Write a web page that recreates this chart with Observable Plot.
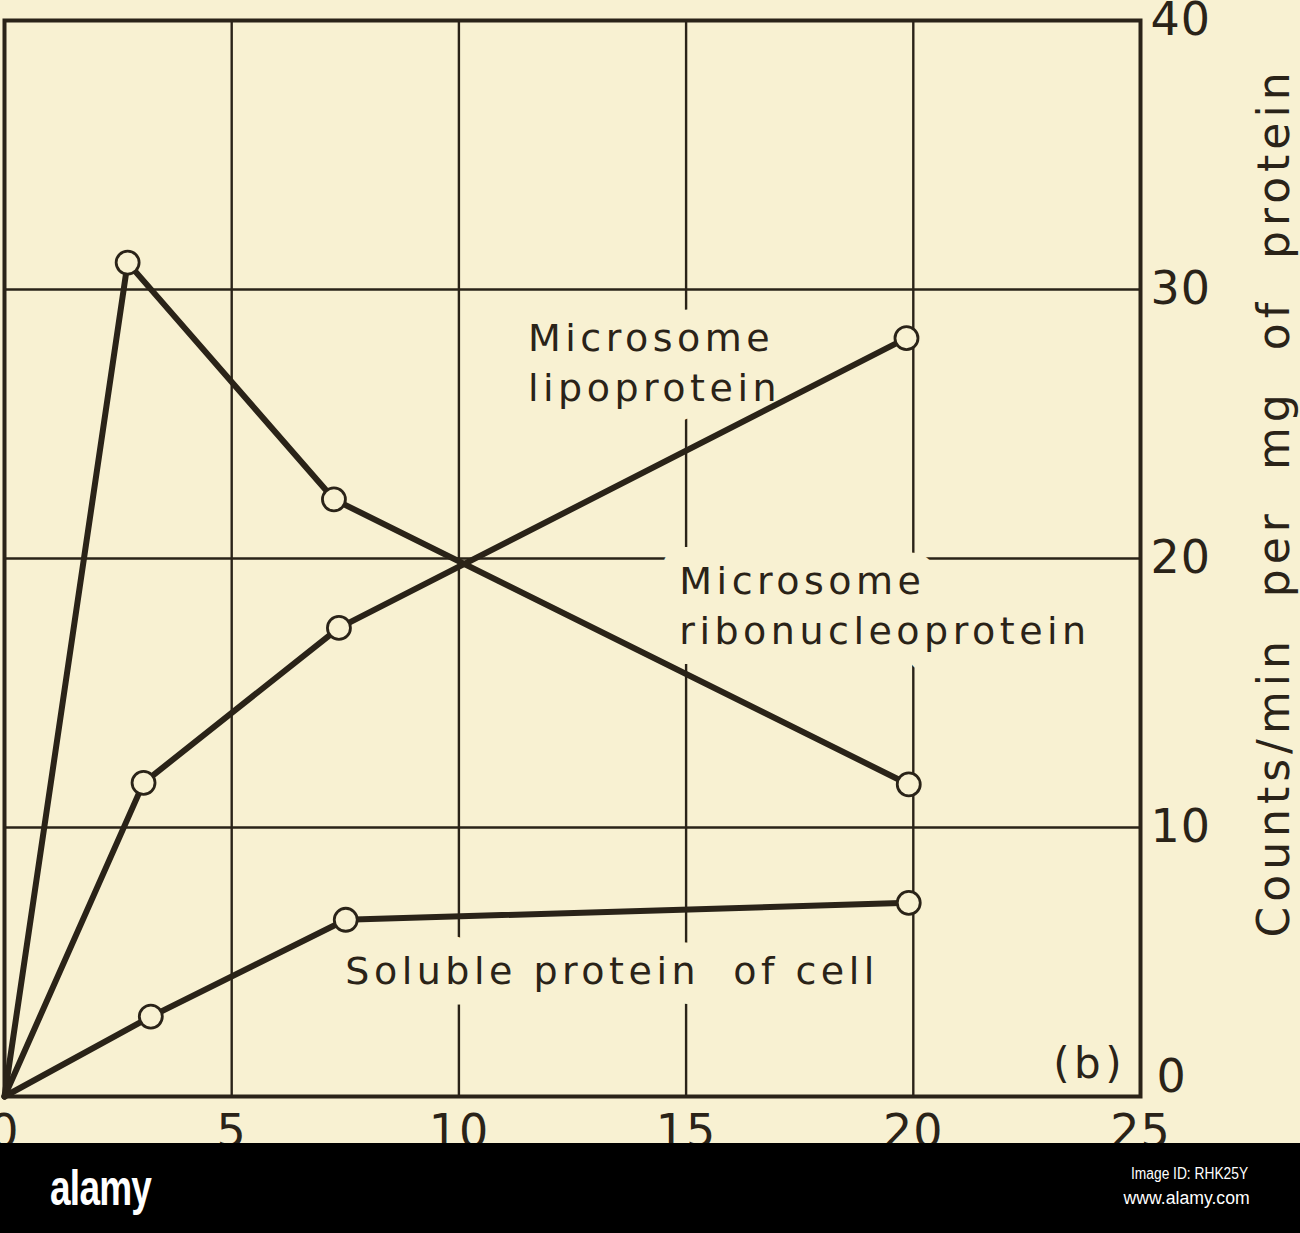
<!DOCTYPE html>
<html>
<head>
<meta charset="utf-8">
<script src="https://cdn.jsdelivr.net/npm/d3@7"></script>
<script src="https://cdn.jsdelivr.net/npm/@observablehq/plot@0.6"></script>
<style>
  html, body { margin: 0; padding: 0; background: #f8f1d2; }
  #wrap { position: relative; width: 1300px; height: 1233px; overflow: hidden; background: #f8f1d2; }
  #chart svg { display: block; background: #f8f1d2 !important; }
  #footer { position: absolute; left: 0; top: 1143px; width: 1300px; height: 90px; background: #000; z-index: 5; }
  #footer .logo { position: absolute; left: 50px; top: 16px; color: #fff; font: bold 50px "Liberation Sans", Arial, sans-serif;
    transform: scaleX(0.74); transform-origin: left top; letter-spacing: -1px; }
  #footer .id { position: absolute; right: 52px; top: 22px; color: #fff; font: 16px "Liberation Sans", Arial, sans-serif;
    transform: scaleX(0.86); transform-origin: right top; }
  #footer .url { position: absolute; right: 50px; top: 45px; color: #fff; font: 18px "Liberation Sans", Arial, sans-serif;
    transform: scaleX(0.98); transform-origin: right top; }
  g[aria-label="x-axis tick label"] text, g[aria-label="y-axis tick label"] text { letter-spacing: 1px; }
</style>
</head>
<body>
<div id="wrap">
  <div id="chart"></div>
  <div id="footer">
    <div class="logo">alamy</div>
    <div class="id">Image ID: RHK25Y</div>
    <div class="url">www.alamy.com</div>
  </div>
</div>
<script>
// ---- data ----
const xTicks = [0, 5, 10, 15, 20, 25];
const yTicks = [10, 20, 30, 40];
const yZeroTick = [0];
const gridX = [5, 10, 15, 20];
const gridY = [10, 20, 30];

const seriesNames = ["Microsome ribonucleoprotein", "Microsome lipoprotein", "Soluble protein of cell"];
const ribonucleoX = [0, 2.71, 7.25, 19.9];
const ribonucleoY = [0, 31.0, 22.2, 11.6];
const lipoX = [0, 3.06, 7.36, 19.85];
const lipoY = [0, 11.66, 17.42, 28.19];
const solubleX = [0, 3.22, 7.51, 19.9];
const solubleY = [0, 2.97, 6.57, 7.2];

const labelText = ["Microsome\nlipoprotein", "Microsome\nribonucleoprotein", "Soluble protein  of cell", "(b)"];
const labelX = [11.52, 14.85, 13.37, 23.88];
const labelY = [27.37, 18.35, 4.79, 1.30];

const yTitle = "Counts/min per mg of protein";

// ---- build tables ----
const xs = [ribonucleoX, lipoX, solubleX];
const ys = [ribonucleoY, lipoY, solubleY];
const rows = [];
seriesNames.forEach((name, i) => {
  xs[i].forEach((x, j) => rows.push({series: name, x, y: ys[i][j], idx: j}));
});
const pts = rows.filter(d => d.idx > 0);
const labels = labelText.map((t, i) => ({t, x: labelX[i], y: labelY[i]}));
const leftLabels = labels.slice(0, 2);
const midLabels = labels.slice(2, 3);
const bLabel = labels.slice(3, 4);

const ink = "#2a2318";
const bg = "#f8f1d2";
const font = "DejaVu Sans, Liberation Sans, sans-serif";

function labelHalo(data, anchor, size, lh) {
  return Plot.text(data, {x: "x", y: "y", text: "t", textAnchor: anchor, fontSize: size, lineHeight: lh,
    fill: bg, stroke: bg, strokeWidth: 40, strokeLinejoin: "round", fontFamily: font});
}
function labelInk(data, anchor, size, lh) {
  return Plot.text(data, {x: "x", y: "y", text: "t", textAnchor: anchor, fontSize: size, lineHeight: lh,
    fill: ink, fontFamily: font});
}

const chart = Plot.plot({
  width: 1300,
  height: 1233,
  marginLeft: 4,
  marginRight: 160,
  marginTop: 20,
  marginBottom: 137,
  style: {background: bg, color: ink, fontFamily: font},
  x: {domain: [0, 25]},
  y: {domain: [0, 40]},
  marks: [
    Plot.ruleX(gridX, {stroke: ink, strokeWidth: 2.4}),
    Plot.ruleY(gridY, {stroke: ink, strokeWidth: 2.4}),
    labelHalo(leftLabels, "start", 38, 1.32),
    labelHalo(midLabels, "middle", 38, 1.32),
    labelHalo(bLabel, "middle", 42, 1.2),
    Plot.frame({stroke: ink, strokeWidth: 4}),
    Plot.line(rows, {x: "x", y: "y", z: "series", stroke: ink, strokeWidth: 6, strokeLinejoin: "round"}),
    Plot.dot(pts, {x: "x", y: "y", r: 11.5, fill: bg, stroke: ink, strokeWidth: 2.8}),
    labelInk(leftLabels, "start", 38, 1.32),
    labelInk(midLabels, "middle", 38, 1.32),
    labelInk(bLabel, "middle", 42, 1.2),
    Plot.axisX({ticks: xTicks, tickSize: 0, tickPadding: 18, fontSize: 46, label: null, fill: ink, tickFormat: d => String(d)}),
    Plot.axisY({ticks: yTicks, anchor: "right", tickSize: 0, tickPadding: 10, fontSize: 46, label: null, fill: ink, tickFormat: d => String(d)}),
    Plot.axisY({ticks: yZeroTick, anchor: "right", tickSize: 0, tickPadding: 16, fontSize: 46, label: null, fill: ink, dy: -19, tickFormat: d => String(d)}),
    Plot.text([yTitle], {frameAnchor: "right", textAnchor: "middle", lineAnchor: "middle", text: d => d, rotate: -90,
      dx: 134, dy: -56, fontSize: 44, fill: ink, fontFamily: font})
  ]
});

// letter spacing for the loose lettering of the original
d3.select(chart).selectAll('g[aria-label="text"] text').each(function() {
  const el = d3.select(this);
  if (this.textContent === yTitle) {
    el.style("letter-spacing", "5px").style("word-spacing", "20px");
  } else {
    el.style("letter-spacing", "4.5px").style("word-spacing", "0px");
  }
});
document.getElementById("chart").appendChild(chart);
</script>
</body>
</html>
